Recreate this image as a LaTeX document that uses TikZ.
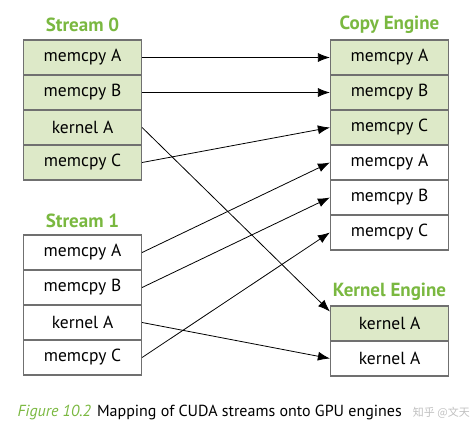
\documentclass[tikz,border=0pt]{standalone}
\usepackage{fontspec}
\setmainfont{PT Sans}
\newfontfamily\cjk{Noto Sans CJK SC}
\usetikzlibrary{arrows.meta}
\definecolor{nvgreen}{RGB}{122,184,64}
\definecolor{rowgreen}{RGB}{221,233,200}
\definecolor{rowline}{RGB}{112,112,112}

\begin{document}
\begin{tikzpicture}[x=1bp, y=-1bp,
        row/.style = {draw = rowline, line width = 1.2bp, fill = white,
            minimum width = 118bp, minimum height = 35bp, inner sep = 0pt,
            font = \fontsize{17.5bp}{19bp}\selectfont},
        busy/.style = {row, fill = rowgreen},
        title/.style = {text = nvgreen, font = \fontsize{19bp}{21bp}\selectfont\bfseries},
        link/.style = {line width = 0.8bp, -{Latex[length = 12bp, width = 9bp]}}]
        \useasboundingbox (0, 0) rectangle (474, 437);

        % stream 0
        \node[title] (s0) at (82.5, 25) {Stream 0};
        \node[busy] (s0a) at (82.5, 57.5) {memcpy A};
        \node[busy] (s0b) at (82.5, 92.5) {memcpy B};
        \node[busy] (s0k) at (82.5, 127.5) {kernel A};
        \node[busy] (s0c) at (82.5, 162.5) {memcpy C};

        % stream 1
        \node[title] (s1) at (82.5, 221) {Stream 1};
        \node[row] (s1a) at (82.5, 252.5) {memcpy A};
        \node[row] (s1b) at (82.5, 287.5) {memcpy B};
        \node[row] (s1k) at (82.5, 322.5) {kernel A};
        \node[row] (s1c) at (82.5, 357.5) {memcpy C};

        % copy engine
        \node[title] (ce) at (389.5, 25) {Copy Engine};
        \node[busy] (ce1) at (389.5, 57.5) {memcpy A};
        \node[busy] (ce2) at (389.5, 92.5) {memcpy B};
        \node[busy] (ce3) at (389.5, 127.5) {memcpy C};
        \node[row] (ce4) at (389.5, 162.5) {memcpy A};
        \node[row] (ce5) at (389.5, 197.5) {memcpy B};
        \node[row] (ce6) at (389.5, 232.5) {memcpy C};

        % kernel engine
        \node[title] (ke) at (389.5, 292) {Kernel Engine};
        \node[busy] (ke1) at (389.5, 323.5) {kernel A};
        \node[row] (ke2) at (389.5, 358.5) {kernel A};

        \draw[link] (s0a.east) -- (ce1.west);
        \draw[link] (s0b.east) -- (ce2.west);
        \draw[link] (s0c.east) -- (ce3.west);
        \draw[link] (s0k.east) -- ([yshift = 12bp]ke1.west);
        \draw[link] (s1a.east) -- (ce4.west);
        \draw[link] (s1b.east) -- (ce5.west);
        \draw[link] (s1c.east) -- (ce6.west);
        \draw[link] (s1k.east) -- (ke2.west);

        \node[anchor = west, font = \fontsize{16bp}{18bp}\selectfont] (cap) at (14, 412)
            {\textcolor{nvgreen}{\itshape Figure 10.2}\hspace{6bp}Mapping of CUDA streams onto GPU engines};
        \node[anchor = east, text = black!35, opacity = 0.7, inner sep = 1bp, font = \cjk\fontsize{11bp}{13bp}\selectfont] (mark) at (471, 413) {知乎 @文天};
    \end{tikzpicture}
\end{document}
